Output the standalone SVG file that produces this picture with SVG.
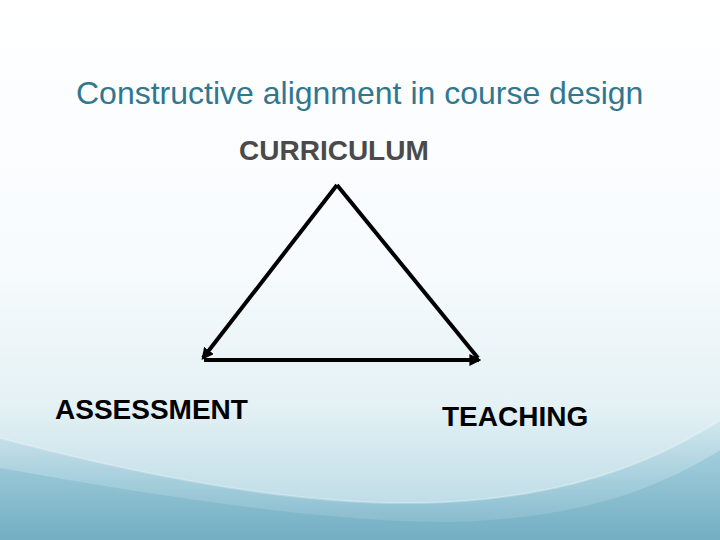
<svg xmlns="http://www.w3.org/2000/svg" width="720" height="540" viewBox="0 0 720 540">
  <defs>
    <linearGradient id="bg" x1="0" y1="0" x2="0" y2="1">
      <stop offset="0" stop-color="#ffffff"/>
      <stop offset="0.5" stop-color="#f7fbfd"/>
      <stop offset="0.75" stop-color="#e4f1f5"/>
      <stop offset="1" stop-color="#b2d6e2"/>
    </linearGradient>
    <linearGradient id="w1" gradientUnits="userSpaceOnUse" x1="0" y1="420" x2="0" y2="540">
      <stop offset="0" stop-color="#cfe6ee"/>
      <stop offset="0.45" stop-color="#a2cddb"/>
      <stop offset="1" stop-color="#70adc2"/>
    </linearGradient>
    <linearGradient id="w2" gradientUnits="userSpaceOnUse" x1="0" y1="450" x2="0" y2="540">
      <stop offset="0" stop-color="#8fc3d3"/>
      <stop offset="1" stop-color="#6aa9be"/>
    </linearGradient>
    <marker id="arrow" viewBox="0 0 10 10" refX="8" refY="5" markerWidth="3" markerHeight="3" orient="auto" markerUnits="strokeWidth">
      <path d="M0,0 L10,5 L0,10 Z" fill="#000"/>
    </marker>
    <style>
      .title { font-family: "Liberation Sans", Arial, sans-serif; font-size: 32px; fill: #31778f; }
      .lbl { font-family: "Liberation Sans", Arial, sans-serif; font-size: 28px; font-weight: bold; fill: #000; }
      .edge { stroke: #000; stroke-width: 4; fill: none; stroke-linecap: butt; stroke-linejoin: miter; }
    </style>
  </defs>

  <rect x="0" y="0" width="720" height="540" fill="url(#bg)"/>
  <path d="M0,438 C150,478 300,505 420,503 C560,500 650,465 720,420 L720,540 L0,540 Z" fill="url(#w1)" opacity="0.8"/>
  <path d="M0,468 C180,500 330,522 450,522 C580,519 660,488 720,450 L720,540 L0,540 Z" fill="url(#w2)" opacity="0.55"/>
  <path d="M0,438 C150,478 300,505 420,503 C560,500 650,465 720,420" fill="none" stroke="#ffffff" stroke-opacity="0.25" stroke-width="2"/>

  <text class="title" x="76" y="104">Constructive alignment in course design</text>

  <g id="curriculum">
    <text class="lbl" x="239" y="160" style="fill:#4a4a4a">CURRICULUM</text>
  </g>
  <g id="assessment">
    <text class="lbl" x="55" y="419">ASSESSMENT</text>
  </g>
  <g id="teaching">
    <text class="lbl" x="442" y="426">TEACHING</text>
  </g>

  <g id="connectors">
    <path class="edge" d="M337,185 L203,358" marker-end="url(#arrow)"/>
    <path class="edge" d="M337,185 L478,358"/>
    <path class="edge" d="M204,360 L479,360" marker-end="url(#arrow)"/>
  </g>
</svg>
